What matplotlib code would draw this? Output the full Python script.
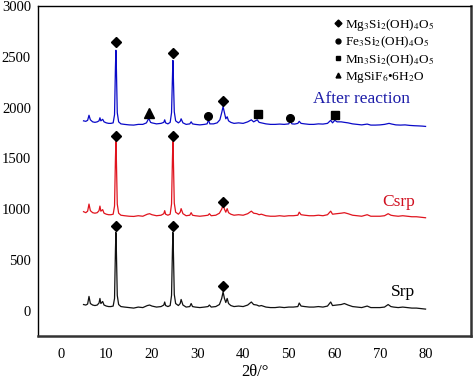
import numpy as np
import matplotlib
matplotlib.use("Agg")
import matplotlib.pyplot as plt
from matplotlib.lines import Line2D

plt.rcParams['font.family'] = ['Liberation Serif', 'DejaVu Serif']
plt.rcParams['mathtext.fontset'] = 'stix'

# XRD patterns: (2theta, intensity)
srp_pts = [(5.0, 60), (5.5, 55), (5.9, 65), (6.2, 140), (6.5, 70), (7.0, 55), (7.5, 50),
           (8.0, 55), (8.4, 75), (8.6, 120), (8.8, 70), (9.2, 90), (9.5, 55), (10.0, 45),
           (10.5, 40), (11.0, 40), (11.5, 45), (11.8, 120), (12.0, 600), (12.1, 770),
           (12.2, 600), (12.4, 150), (12.7, 60), (13.2, 40), (14.0, 35), (15.0, 30),
           (16.0, 25), (17.0, 35), (18.0, 30), (19.0, 50), (19.5, 55), (20.0, 45),
           (21.0, 35), (22.0, 40), (22.6, 55), (22.8, 85), (23.0, 50), (23.5, 40),
           (24.0, 50), (24.3, 150), (24.5, 600), (24.6, 770), (24.7, 600), (24.9, 160),
           (25.2, 70), (25.8, 50), (26.2, 70), (26.4, 110), (26.8, 55), (27.5, 35),
           (28.3, 40), (28.6, 70), (28.9, 40), (29.5, 35), (30.5, 30), (31.5, 35),
           (32.3, 40), (32.6, 55), (33.0, 35), (34.0, 40), (34.8, 60), (35.3, 120),
           (35.6, 185), (35.9, 120), (36.2, 80), (36.5, 120), (36.8, 70), (37.3, 50),
           (38.0, 40), (39.0, 45), (40.0, 40), (41.0, 55), (41.8, 85), (42.3, 60),
           (43.0, 55), (43.5, 45), (44.0, 50), (45.0, 35), (46.0, 30), (47.0, 30),
           (48.0, 35), (49.0, 30), (50.0, 35), (51.0, 35), (52.0, 40), (52.3, 75),
           (52.7, 45), (53.5, 40), (54.5, 35), (55.5, 35), (56.5, 40), (57.5, 35),
           (58.5, 45), (59.2, 85), (59.6, 50), (60.5, 55), (61.5, 60), (62.2, 70),
           (63.0, 55), (64.0, 40), (65.0, 35), (66.0, 30), (67.2, 45), (68.0, 30),
           (69.0, 30), (70.0, 30), (71.0, 35), (71.8, 60), (72.4, 40), (73.0, 35),
           (74.0, 30), (75.0, 35), (76.0, 30), (77.0, 25), (78.0, 25), (79.0, 20),
           (80.0, 15)]

csrp_pts = [(5.0, 975), (5.5, 965), (5.9, 980), (6.2, 1050), (6.5, 985), (7.0, 965),
            (7.5, 960), (8.0, 965), (8.4, 985), (8.6, 1030), (8.8, 980), (9.2, 995),
            (9.5, 960), (10.0, 950), (10.5, 945), (11.0, 945), (11.5, 950), (11.8, 1030),
            (12.0, 1500), (12.1, 1665), (12.2, 1500), (12.4, 1050), (12.7, 960),
            (13.2, 940), (14.0, 935), (15.0, 930), (16.0, 928), (17.0, 935), (18.0, 930),
            (19.0, 950), (19.5, 955), (20.0, 945), (21.0, 935), (22.0, 940), (22.6, 955),
            (22.8, 985), (23.0, 950), (23.5, 940), (24.0, 950), (24.3, 1050),
            (24.5, 1500), (24.6, 1665), (24.7, 1500), (24.9, 1060), (25.2, 970),
            (25.8, 950), (26.2, 970), (26.4, 1005), (26.8, 955), (27.5, 935), (28.3, 940),
            (28.6, 965), (28.9, 940), (29.5, 935), (30.5, 930), (31.5, 935), (32.3, 940),
            (32.6, 955), (33.0, 935), (34.0, 940), (34.8, 960), (35.3, 1000),
            (35.6, 1040), (35.9, 1000), (36.2, 970), (36.5, 1005), (36.8, 965),
            (37.3, 950), (38.0, 940), (39.0, 945), (40.0, 940), (41.0, 955), (41.8, 980),
            (42.3, 960), (43.0, 955), (43.5, 945), (44.0, 950), (45.0, 935), (46.0, 930),
            (47.0, 930), (48.0, 935), (49.0, 930), (50.0, 935), (51.0, 935), (52.0, 940),
            (52.3, 970), (52.7, 945), (53.5, 940), (54.5, 935), (55.5, 935), (56.5, 940),
            (57.5, 935), (58.5, 945), (59.2, 980), (59.6, 950), (60.5, 955), (61.5, 960),
            (62.2, 965), (63.0, 955), (64.0, 940), (65.0, 935), (66.0, 930), (67.2, 945),
            (68.0, 930), (69.0, 930), (70.0, 930), (71.0, 935), (71.8, 955), (72.4, 940),
            (73.0, 935), (74.0, 930), (75.0, 935), (76.0, 930), (77.0, 925), (78.0, 925),
            (79.0, 920), (80.0, 915)]

after_pts = [(5.0, 1870), (5.5, 1865), (5.9, 1875), (6.2, 1925), (6.5, 1880), (7.0, 1860),
             (7.5, 1855), (8.0, 1860), (8.4, 1870), (8.6, 1900), (8.8, 1870), (9.2, 1885),
             (9.5, 1860), (10.0, 1850), (10.5, 1845), (11.0, 1845), (11.5, 1850),
             (11.8, 1930), (12.0, 2400), (12.1, 2565), (12.2, 2400), (12.4, 1950),
             (12.7, 1860), (13.2, 1840), (14.0, 1835), (15.0, 1830), (16.0, 1828),
             (17.0, 1835), (18.0, 1835), (18.8, 1850), (19.3, 1895), (19.7, 1855),
             (20.0, 1850), (21.0, 1840), (22.0, 1845), (22.6, 1855), (22.8, 1880),
             (23.0, 1850), (23.5, 1840), (24.0, 1855), (24.3, 1950), (24.5, 2300),
             (24.6, 2465), (24.7, 2300), (24.9, 1960), (25.2, 1870), (25.8, 1850),
             (26.2, 1865), (26.4, 1890), (26.8, 1850), (27.5, 1835), (28.3, 1840),
             (28.6, 1860), (28.9, 1840), (29.5, 1835), (30.5, 1830), (31.5, 1835),
             (32.1, 1840), (32.4, 1880), (32.7, 1840), (33.5, 1840), (34.3, 1850),
             (34.9, 1880), (35.3, 1950), (35.6, 2010), (35.9, 1950), (36.2, 1890),
             (36.5, 1910), (36.8, 1870), (37.3, 1855), (38.0, 1845), (39.0, 1850),
             (40.0, 1845), (41.0, 1860), (41.8, 1880), (42.3, 1860), (43.1, 1880),
             (43.5, 1855), (44.0, 1850), (45.0, 1840), (46.0, 1835), (47.0, 1835),
             (48.0, 1838), (49.0, 1835), (50.0, 1840), (50.3, 1865), (50.7, 1840),
             (51.3, 1838), (52.0, 1845), (52.3, 1865), (52.7, 1845), (53.5, 1840),
             (54.5, 1835), (55.5, 1835), (56.5, 1840), (57.5, 1838), (58.5, 1845),
             (59.2, 1875), (59.6, 1850), (60.1, 1875), (60.6, 1860), (61.5, 1860),
             (62.2, 1855), (63.0, 1850), (64.0, 1840), (65.0, 1835), (66.0, 1830),
             (67.2, 1838), (68.0, 1828), (69.0, 1828), (70.0, 1830), (71.0, 1835),
             (72.0, 1845), (72.6, 1838), (73.5, 1830), (74.5, 1828), (75.5, 1830),
             (76.5, 1825), (77.5, 1822), (78.5, 1820), (79.3, 1818), (80.0, 1815)]

# phase markers: (2theta, intensity)
serpentine_marks = [(12.1, 830), (24.6, 830), (35.6, 245),
                    (12.1, 1725), (24.6, 1725), (35.6, 1070),
                    (12.1, 2645), (24.6, 2540), (35.6, 2065)]
fe_marks = [(32.4, 1918), (50.3, 1902)]
mn_marks = [(43.2, 1940), (60.2, 1928)]
mgsif_marks = [(19.3, 1945)]

legend_labels = [r'Mg$_3$Si$_2$(OH)$_4$O$_5$', r'Fe$_3$Si$_2$(OH)$_4$O$_5$',
                 r'Mn$_3$Si$_2$(OH)$_4$O$_5$', r'MgSiF$_6$•6H$_2$O']

fig = plt.figure(figsize=(4.74, 3.84), dpi=100)
ax = fig.add_axes([0.080, 0.125, 0.914, 0.859])

blue = '#0a0ac8'
red = '#e0141e'
for pts, c in [(srp_pts, '#111111'), (csrp_pts, red), (after_pts, blue)]:
    x, y = zip(*pts)
    ax.plot(x, y, color=c, lw=0.9)

ms = 5.5
for pts, m, s in [(serpentine_marks, 'D', ms), (fe_marks, 'o', ms), (mn_marks, 's', ms),
                  (mgsif_marks, '^', ms + 1)]:
    x, y = zip(*pts)
    ax.plot(x, y, ls='none', marker=m, color='black', markersize=s)

ax.text(66, 2085, 'After reaction', color='#1c1ca8', fontsize=12.5, ha='center', va='center')
ax.text(74, 1075, 'Csrp', color='#d01020', fontsize=12.5, ha='center', va='center')
ax.text(75, 180, 'Srp', color='black', fontsize=12.5, ha='center', va='center')

handles = [Line2D([], [], ls='none', marker=m, color='black', markersize=3.5)
           for m in ['D', 'o', 's', '^']]
ax.legend(handles, legend_labels, loc='upper left', bbox_to_anchor=(0.667, 0.992),
          frameon=False, fontsize=9.5, handlelength=0.5, handletextpad=0.3,
          labelspacing=0.15, borderpad=0.1)

ax.set_xlim(-5, 90)
ax.set_ylim(-250, 3000)
ax.set_xticks(range(0, 90, 10))
ax.set_yticks(range(0, 3001, 500))
ax.tick_params(length=0, labelsize=10.5)
ax.tick_params(axis='x', pad=9)
ax.tick_params(axis='y', pad=5)
ax.set_xlabel('2θ/°', fontsize=12, labelpad=2)

for side in ['left', 'top']:
    ax.spines[side].set_linewidth(1.0)
for side in ['right', 'bottom']:
    ax.spines[side].set_linewidth(1.8)
    ax.spines[side].set_color('#333333')

fig.savefig('out.png', dpi=100)
